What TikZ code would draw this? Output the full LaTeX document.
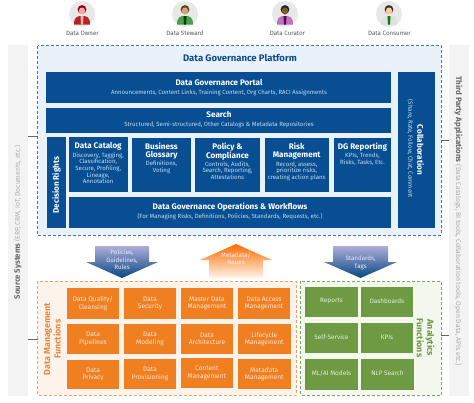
\documentclass[tikz,border=0pt]{standalone}
\usepackage{fontspec}
\setmainfont{Fira Sans}
\usetikzlibrary{calc}
\definecolor{navy}{HTML}{074F92}
\definecolor{titlenavy}{HTML}{0F4C8A}
\definecolor{palebluebox}{HTML}{E9F2FB}
\definecolor{dashblue}{HTML}{3D76AE}
\definecolor{sub}{HTML}{C4D9EE}
\definecolor{bandgray}{HTML}{F3F3F3}
\definecolor{bandtext}{HTML}{6A6A6A}
\definecolor{bandsub}{HTML}{ABABAB}
\definecolor{orcell}{HTML}{F07F22}
\definecolor{ortext}{HTML}{FBE3CE}
\definecolor{orbox}{HTML}{FDF3EB}
\definecolor{ordash}{HTML}{E9A46E}
\definecolor{ortitle}{HTML}{E58A3C}
\definecolor{grcell}{HTML}{6E9A43}
\definecolor{grtext}{HTML}{E3EDD8}
\definecolor{grbox}{HTML}{F3F7EE}
\definecolor{grdash}{HTML}{7FA65E}
\definecolor{grtitle}{HTML}{6E9A43}
\newcommand{\fs}[1]{\fontsize{#1}{#1}\selectfont}
\tikzset{
  x=1pt,y=-1pt,
  every node/.style={inner sep=0pt,outer sep=0pt,align=center},
  navybox/.style={fill=navy,draw=none},
  head/.style={text=white,font=\fs{8.1}\bfseries},
  subt/.style={text=sub,font={\fontsize{6.05}{6.6}\selectfont}},
  role/.style={text=black!65,font=\fs{6.2}},
  tick/.style={draw=black!60,line width=0.8pt},
  arrowlabel/.style={font={\fontsize{6.2}{7.6}\selectfont},text=white!92!blue,align=center},
  band/.style={fill=bandgray,draw=none},
}
% \person{x}{skin}{hair}{body}{accent}
\newcommand{\person}[5]{%
  \fill[black!9] (#1,14) circle (13);
  \fill[#4] (#1-8,24.5) .. controls (#1-8,17) and (#1-5,16) .. (#1,16) .. controls (#1+5,16) and (#1+8,17) .. (#1+8,24.5) -- cycle;
  \fill[#5] (#1-1.5,16) -- (#1+1.5,16) -- (#1+1,24.5) -- (#1-1,24.5) -- cycle;
  \fill[#3] (#1,9.5) circle (4.4);
  \fill[#2] (#1,11) ellipse (3.2 and 3.6);
}
\begin{document}
\begin{tikzpicture}
\useasboundingbox (0,0) rectangle (474,402);
\fill[white] (0,0) rectangle (474,402);
% side bands
\path[band] (8,45) rectangle (28,396);
\path[band] (449,45) rectangle (469,396);
\node[rotate=90,font=\fs{7.8}] (src) at (18,222.5) {\textcolor{bandtext}{\bfseries Source Systems} \textcolor{bandsub}{\fs{6.7}(ERP, CRM, IoT, Documents, etc.)}};
\node[rotate=-90,font=\fs{7.9}] (third) at (458.5,221) {\textcolor{bandtext}{\bfseries Third Party Applications} \textcolor{bandsub}{\fs{6.8}(Data Catalogs, BI tools, Collaboration tools, Open Data, APIs etc.)}};
% people
\person{82}{red!35!white}{red!55!black}{red!65!black!85}{white!70!red}
\person{185}{brown!70!white}{brown!50!black}{green!45!black!70}{green!25!black}
\person{285}{brown!70!black}{black!85}{violet!55!white}{violet!70!black}
\person{389}{orange!40!white}{black!80}{black!12}{green!50!black}
\node[role] (downer) at (82.5,33.5) {Data Owner};
\node[role] (dsteward) at (185,33.5) {Data Steward};
\node[role] (dcurator) at (287.5,33.5) {Data Curator};
\node[role] (dconsumer) at (389.5,33.5) {Data Consumer};
% platform
\draw[fill=palebluebox,draw=dashblue,densely dashed,line width=0.7pt] (37.5,45.5) rectangle (441,235);
\node[text=titlenavy,font=\fs{9.5}\bfseries] (ptitle) at (240,58) {Data Governance Platform};
\path[navybox] (46,71.5) rectangle (391,103);
\node[head] (portal) at (219,82) {Data Governance Portal};
\node[subt] (portals) at (219,92.5) {Announcements, Content Links, Training Content, Org Charts, RACI Assignments};
\path[navybox] (46,108) rectangle (391,132.5);
\node[head] (search) at (219,114.5) {Search};
\node[subt] (searchs) at (219,124.5) {Structured, Semi-structured, Other Catalogs \& Metadata Repositories};
\path[navybox] (397.5,71.5) rectangle (434.5,228);
\node[head,rotate=-90] (collab) at (420.5,150) {Collaboration};
\node[subt,rotate=-90] (collabs) at (410.5,149) {(Share, Rate, Follow, Chat, Comment};
\path[navybox] (46.5,137) rectangle (65.5,228);
\node[head,rotate=90] (dr) at (56.5,185) {Decision Rights};
% modules
\path[navybox] (69,137) rectangle (127.5,192);
\node[head,anchor=north] (cat) at (98.2,142) {Data Catalog};
\node[subt,anchor=north] (cats) at (98.2,152.5) {Discovery, Tagging,\\Classification,\\Secure, Profiling,\\Lineage,\\Annotation};
\path[navybox] (132,137.5) rectangle (191,192);
\node[head,anchor=north,align=center] (bg) at (161.5,142.5) {Business\\Glossary};
\node[subt,anchor=north] (bgs) at (161.5,161) {Definitions,\\Voting};
\path[navybox] (195,137.5) rectangle (260,192);
\node[head,anchor=north] (pol) at (227.5,143) {Policy \&\\Compliance};
\node[subt,anchor=north] (pols) at (227.5,161.5) {Controls, Audits,\\Search, Reporting,\\Attestations};
\path[navybox] (264.5,137.5) rectangle (329,192);
\node[head,anchor=north] (risk) at (296.7,143) {Risk\\Management};
\node[subt,anchor=north] (risks) at (296.7,161.5) {Record, assess,\\prioritize risks,\\creating action plans};
\path[navybox] (334,137.5) rectangle (391,192);
\node[head,anchor=north] (dg) at (362.5,142.5) {DG Reporting};
\node[subt,anchor=north] (dgs) at (362.5,153) {KPIs, Trends,\\Risks, Tasks, Etc.};
\path[navybox] (69,197) rectangle (391,228);
\node[head] (ops) at (230,207) {Data Governance Operations \& Workflows};
\node[subt] (opss) at (230,216.5) {(For Managing Risks, Definitions, Policies, Standards, Requests, etc.)};
% arrows
\shade[top color=blue!20!white!85!black,bottom color=navy!90!black] (95,246) -- (149,246) -- (149,262) -- (158,262) -- (122,278) -- (86,262) -- (95,262) -- cycle;
\shade[top color=blue!20!white!85!black,bottom color=navy!90!black] (333,246) -- (388,246) -- (388,262) -- (397,262) -- (360.5,278) -- (324,262) -- (333,262) -- cycle;
\shade[top color=orange!85!red,middle color=orange!75!white,bottom color=orange!8!white] (236,244) -- (272,260) -- (263,260) -- (263,278) -- (209,278) -- (209,260) -- (200,260) -- cycle;
\node[arrowlabel] (a1) at (122,260) {Policies,\\Guidelines,\\Rules};
\node[arrowlabel] (a2) at (236,258.5) {Metadata/\\Issues};
\node[arrowlabel] (a3) at (360.5,263) {Standards,\\Tags};
% lower boxes
\draw[fill=orbox,draw=ordash,densely dashed,line width=0.7pt] (37.5,281) rectangle (296,395);
\draw[fill=grbox,draw=grdash,densely dashed,line width=0.7pt] (300.5,281) rectangle (441,395);
\node[rotate=90,text=ortitle,font={\fontsize{8.8}{10.5}\selectfont\bfseries}] (dmf) at (52.5,339) {Data Management\\Functions};
\node[rotate=-90,text=grtitle,font={\fontsize{8.8}{10.5}\selectfont\bfseries}] (af) at (425.5,338) {Analytics\\Functions};
% orange cells
\foreach \n/\xa/\xb/\ya/\yb/\t in {
 a/67/119/288/319/{Data Quality/\\Cleansing},
 b/124/176/288/319/{Data\\Security},
 c/181/233/288/319/{Master Data\\Management},
 d/238/290/288/319/{Data Access\\Management},
 e/67/119/324/354/{Data\\Pipelines},
 f/124/176/324/354/{Data\\Modeling},
 g/181/233/324/354/{Data\\Architecture},
 h/238/290.5/324/354/{Lifecycle\\Management},
 i/67/119/359.5/389/{Data\\Privacy},
 j/124/176/359/389/{Data\\Provisioning},
 k/180.5/233/358/388/{Content\\Management},
 l/238/290.5/359/389/{Metadata\\Management}}{
  \path[fill=orcell] (\xa,\ya) rectangle (\xb,\yb);
  \node[text=ortext,font={\fontsize{6.6}{7.4}\selectfont}] (o\n) at ({(\xa+\xb)/2},{(\ya+\yb)/2}) {\t};
}
% green cells
\foreach \n/\xa/\xb/\ya/\yb/\t in {
 a/305/358/287/317/{Reports},
 b/361/413/287/317/{Dashboards},
 c/305/358/323/353/{Self-Service},
 d/361/413/323/353/{KPIs},
 e/305/358/359/390/{ML/AI Models},
 f/361/414/359/390/{NLP Search}}{
  \path[fill=grcell] (\xa,\ya) rectangle (\xb,\yb);
  \node[text=grtext,font=\fs{6.4}] (g\n) at ({(\xa+\xb)/2},{(\ya+\yb)/2-1}) {\t};
}
% ticks
\coordinate (tl1a) at (28,136); \coordinate (tl1b) at (37.5,136);
\coordinate (tl2a) at (28,339); \coordinate (tl2b) at (37.5,339);
\coordinate (tr1a) at (441,140); \coordinate (tr1b) at (449,140);
\coordinate (tr2a) at (441,335); \coordinate (tr2b) at (449,335);
\draw[tick] (tl1a) -- (tl1b);
\draw[tick] (tl2a) -- (tl2b);
\draw[tick] (tr1a) -- (tr1b);
\draw[tick] (tr2a) -- (tr2b);
\end{tikzpicture}
\end{document}
